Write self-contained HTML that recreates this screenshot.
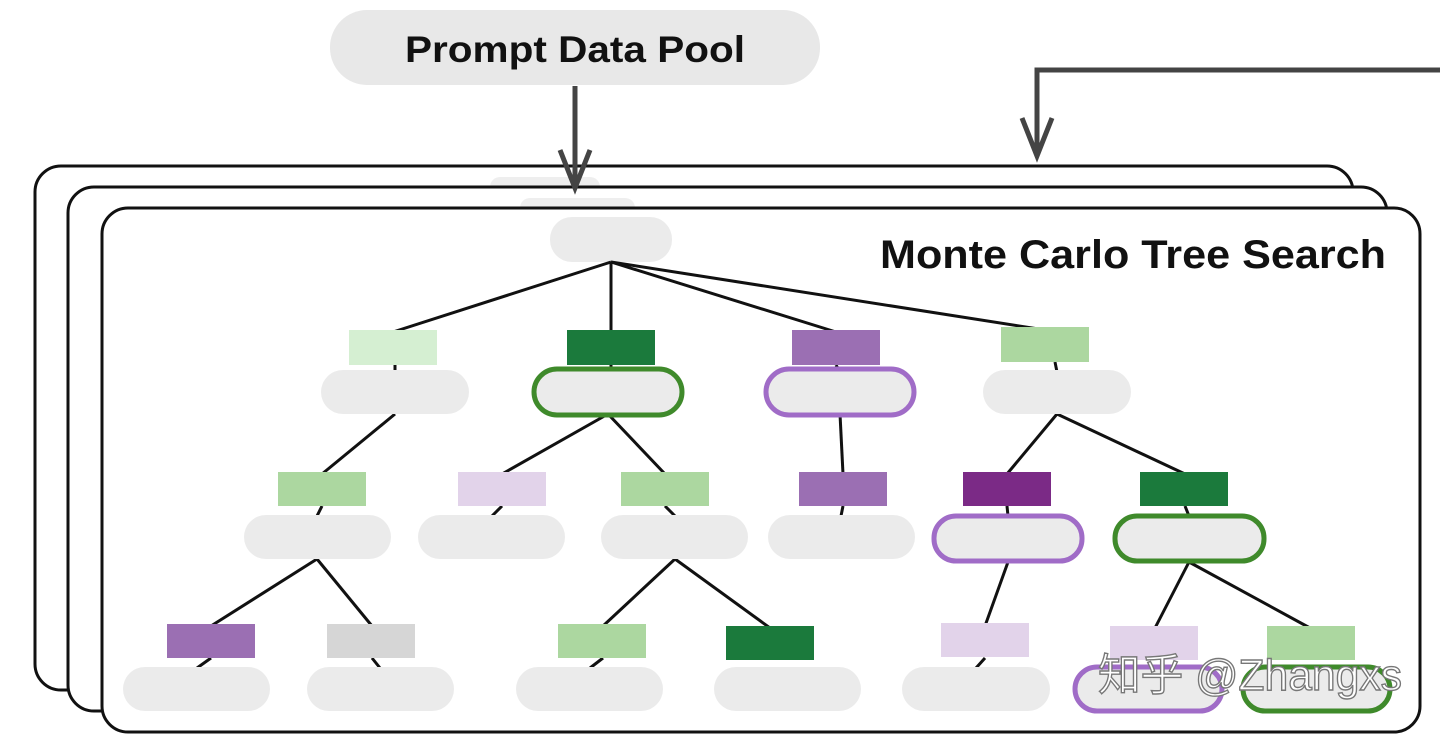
<!DOCTYPE html>
<html><head><meta charset="utf-8"><style>
html,body{margin:0;padding:0;background:#fff;width:1440px;height:737px;overflow:hidden}
svg{display:block}
</style></head><body>
<svg width="1440" height="737" viewBox="0 0 1440 737" xmlns="http://www.w3.org/2000/svg">
<defs>
<style>
.pill{fill:#ebebeb}
.e{stroke:#111;stroke-width:3;fill:none}
</style>
</defs>
<!-- top pill -->
<rect x="330" y="10" width="490" height="75" rx="37" fill="#e8e8e8"/>
<text x="405" y="62" textLength="340" lengthAdjust="spacingAndGlyphs" font-family="Liberation Sans, sans-serif" font-weight="bold" font-size="37" fill="#111">Prompt Data Pool</text>
<!-- frames -->
<rect x="35" y="166" width="1318" height="524" rx="26" fill="#fff" stroke="#111" stroke-width="3"/>
<rect x="490" y="177" width="110" height="20" rx="10" fill="#eee"/>
<rect x="68" y="187" width="1319" height="524" rx="26" fill="#fff" stroke="#111" stroke-width="3"/>
<rect x="520" y="198" width="115" height="20" rx="10" fill="#eee"/>
<rect x="102" y="208" width="1318" height="524" rx="26" fill="#fff" stroke="#111" stroke-width="3"/>
<!-- arrows -->
<g stroke="#444" stroke-width="5" fill="none" stroke-linejoin="miter">
<line x1="575" y1="86" x2="575" y2="188"/>
<polyline points="560,150 575,188 590,150"/>
<polyline points="1440,70 1037,70 1037,156"/>
<polyline points="1022,118 1037,156 1052,118"/>
</g>
<text x="880" y="268" textLength="506" lengthAdjust="spacingAndGlyphs" font-family="Liberation Sans, sans-serif" font-weight="bold" font-size="40" fill="#111">Monte Carlo Tree Search</text>
<!-- root -->
<rect x="550" y="217" width="122" height="45" rx="22" class="pill"/>
<!-- edges -->
<g class="e">
<line x1="611" y1="262" x2="393" y2="332"/>
<line x1="611" y1="262" x2="611" y2="332"/>
<line x1="611" y1="262" x2="836" y2="332"/>
<line x1="611" y1="262" x2="1045" y2="330"/>
<line x1="395" y1="414" x2="322" y2="474"/>
<line x1="608" y1="414" x2="502" y2="474"/>
<line x1="608" y1="414" x2="665" y2="474"/>
<line x1="840" y1="414" x2="843" y2="474"/>
<line x1="1057" y1="414" x2="1007" y2="474"/>
<line x1="1057" y1="414" x2="1185" y2="474"/>
<line x1="317" y1="559" x2="211" y2="626"/>
<line x1="317" y1="559" x2="372" y2="626"/>
<line x1="675" y1="559" x2="603" y2="626"/>
<line x1="675" y1="559" x2="770" y2="628"/>
<line x1="1008" y1="562" x2="985" y2="626"/>
<line x1="1189" y1="562" x2="1155" y2="628"/>
<line x1="1189" y1="562" x2="1310" y2="628"/>
<line x1="395" y1="365" x2="395" y2="372"/>
<line x1="611" y1="365" x2="611" y2="372"/>
<line x1="836" y1="365" x2="840" y2="372"/>
<line x1="1055" y1="362" x2="1057" y2="372"/>
<line x1="322" y1="506" x2="317" y2="516"/>
<line x1="502" y1="506" x2="492" y2="516"/>
<line x1="665" y1="506" x2="675" y2="516"/>
<line x1="843" y1="506" x2="841" y2="516"/>
<line x1="1007" y1="506" x2="1008" y2="516"/>
<line x1="1185" y1="506" x2="1189" y2="516"/>
<line x1="211" y1="658" x2="197" y2="668"/>
<line x1="372" y1="658" x2="380" y2="668"/>
<line x1="603" y1="658" x2="590" y2="668"/>
<line x1="985" y1="658" x2="976" y2="668"/>
</g>
<!-- level 1 -->
<rect x="349" y="330" width="88" height="35" fill="#d5efd2"/>
<rect x="567" y="330" width="88" height="35" fill="#1b7a3c"/>
<rect x="792" y="330" width="88" height="35" fill="#9b6fb3"/>
<rect x="1001" y="327" width="88" height="35" fill="#acd7a0"/>
<rect x="321" y="370" width="148" height="44" rx="22" class="pill"/>
<rect x="534" y="369" width="148" height="46" rx="23" fill="#ebebeb" stroke="#3f8a2b" stroke-width="5"/>
<rect x="766" y="369" width="148" height="46" rx="23" fill="#ebebeb" stroke="#a06cc7" stroke-width="5"/>
<rect x="983" y="370" width="148" height="44" rx="22" class="pill"/>
<!-- level 2 -->
<rect x="278" y="472" width="88" height="34" fill="#acd7a0"/>
<rect x="458" y="472" width="88" height="34" fill="#e2d3ea"/>
<rect x="621" y="472" width="88" height="34" fill="#acd7a0"/>
<rect x="799" y="472" width="88" height="34" fill="#9b6fb3"/>
<rect x="963" y="472" width="88" height="34" fill="#7b2a86"/>
<rect x="1140" y="472" width="88" height="34" fill="#1b7a3c"/>
<rect x="244" y="515" width="147" height="44" rx="22" class="pill"/>
<rect x="418" y="515" width="147" height="44" rx="22" class="pill"/>
<rect x="601" y="515" width="147" height="44" rx="22" class="pill"/>
<rect x="768" y="515" width="147" height="44" rx="22" class="pill"/>
<rect x="934" y="516" width="148" height="45" rx="22" fill="#ebebeb" stroke="#a06cc7" stroke-width="5"/>
<rect x="1115" y="516" width="149" height="45" rx="22" fill="#ebebeb" stroke="#3f8a2b" stroke-width="5"/>
<!-- level 3 -->
<rect x="167" y="624" width="88" height="34" fill="#9b6fb3"/>
<rect x="327" y="624" width="88" height="34" fill="#d6d6d6"/>
<rect x="558" y="624" width="88" height="34" fill="#acd7a0"/>
<rect x="726" y="626" width="88" height="34" fill="#1b7a3c"/>
<rect x="941" y="623" width="88" height="34" fill="#e2d3ea"/>
<rect x="1110" y="626" width="88" height="34" fill="#e2d3ea"/>
<rect x="1267" y="626" width="88" height="34" fill="#acd7a0"/>
<rect x="123" y="667" width="147" height="44" rx="22" class="pill"/>
<rect x="307" y="667" width="147" height="44" rx="22" class="pill"/>
<rect x="516" y="667" width="147" height="44" rx="22" class="pill"/>
<rect x="714" y="667" width="147" height="44" rx="22" class="pill"/>
<rect x="902" y="667" width="148" height="44" rx="22" class="pill"/>
<rect x="1075" y="667" width="147" height="44" rx="22" fill="#ebebeb" stroke="#a06cc7" stroke-width="5"/>
<rect x="1243" y="667" width="147" height="44" rx="22" fill="#ebebeb" stroke="#3f8a2b" stroke-width="5"/>
<!-- watermark -->
<text x="1098" y="690" textLength="304" lengthAdjust="spacingAndGlyphs" font-family="Liberation Sans, Noto Sans CJK SC, sans-serif" font-size="44" fill="#fff" stroke="#777" stroke-width="1.4">知乎 @Zhangxs</text>
</svg>
</body></html>
